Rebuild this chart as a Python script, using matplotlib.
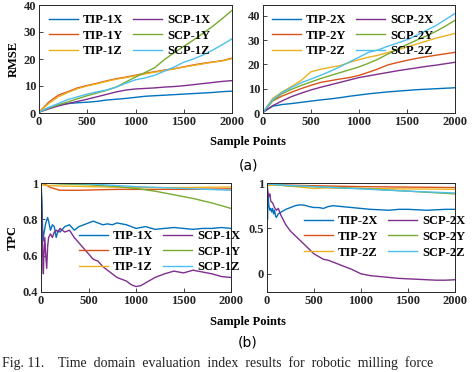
import matplotlib
matplotlib.use("Agg")
import matplotlib.pyplot as plt

plt.rcParams['font.family'] = ['Liberation Serif', 'DejaVu Serif']
plt.rcParams['font.weight'] = 'bold'

tick_size = 9
legend_size = 9
label_size = 9

# MATLAB default line colours: X, Y, Z for TIP and SCP
tip_colors = ["#0072BD", "#D95319", "#EDB120"]
scp_colors = ["#7E2F8E", "#77AC30", "#4DBEEE"]

# ---------------- RMSE data (a) ----------------
x_rmse = [0, 100, 200, 300, 400, 500, 600, 700, 800, 900, 1000,
          1100, 1200, 1300, 1400, 1500, 1600, 1700, 1800, 1900, 2000]

tip_1x = [0.3, 2.0, 3.0, 3.5, 3.8, 4.0, 4.3, 4.8, 5.1, 5.4, 5.8, 6.2, 6.4, 6.6, 6.8, 7.0, 7.2, 7.4, 7.6, 7.9, 8.1]
tip_1y = [0.3, 4.0, 6.6, 7.9, 9.3, 10.2, 11.0, 11.9, 12.7, 13.3, 14.0, 14.7, 15.3, 15.9, 16.4, 17.1, 17.8, 18.4, 18.9, 19.4, 20.3]
tip_1z = [0.3, 3.5, 6.0, 7.6, 9.0, 10.0, 10.8, 11.7, 12.5, 13.1, 13.8, 14.5, 15.1, 15.7, 16.3, 17.0, 17.6, 18.2, 18.8, 19.3, 20.1]
scp_1x = [0.3, 1.5, 2.6, 3.5, 4.3, 5.1, 6.0, 6.9, 7.8, 8.5, 8.9, 9.1, 9.3, 9.6, 9.8, 10.1, 10.5, 10.9, 11.3, 11.7, 12.0]
scp_1y = [0.3, 1.8, 3.0, 4.1, 5.3, 6.4, 7.4, 8.4, 9.6, 11.5, 13.3, 15.0, 16.8, 19.8, 22.3, 24.7, 27.0, 29.5, 32.1, 35.0, 38.0]
scp_1z = [0.3, 2.0, 3.5, 5.0, 6.0, 7.0, 7.8, 8.5, 9.6, 11.0, 12.3, 13.0, 14.0, 15.5, 17.0, 18.8, 20.0, 21.5, 23.3, 25.3, 27.5]

tip_2x = [0.3, 2.8, 3.5, 3.9, 4.4, 4.9, 5.4, 5.8, 6.3, 6.9, 7.4, 7.9, 8.3, 8.7, 9.0, 9.3, 9.6, 9.8, 10.0, 10.2, 10.4]
tip_2y = [0.3, 5.0, 7.0, 8.6, 10.1, 11.4, 12.6, 13.3, 14.0, 14.6, 15.5, 16.8, 18.2, 19.8, 20.8, 21.7, 22.5, 23.2, 23.8, 24.4, 25.0]
tip_2z = [0.3, 6.0, 8.7, 11.0, 13.5, 17.0, 18.0, 18.8, 19.5, 20.8, 22.0, 23.0, 23.8, 24.9, 26.0, 27.2, 28.4, 29.6, 30.8, 31.8, 32.8]
scp_2x = [0.3, 3.0, 5.0, 6.8, 8.2, 9.5, 10.6, 11.6, 12.6, 13.6, 14.6, 15.3, 16.0, 16.7, 17.4, 18.0, 18.6, 19.2, 19.7, 20.3, 20.9]
scp_2y = [0.3, 5.0, 8.0, 9.8, 11.4, 12.8, 14.2, 15.4, 16.6, 17.8, 19.0, 20.5, 22.2, 24.3, 26.2, 28.2, 30.0, 31.7, 33.6, 35.8, 38.2]
scp_2z = [0.3, 5.5, 8.5, 10.6, 12.5, 14.0, 15.5, 17.2, 19.0, 21.0, 23.0, 25.0, 26.0, 27.5, 28.8, 30.2, 32.0, 34.0, 36.0, 38.5, 41.0]

# ---------------- TPC data (b) ----------------
x_tpc_1x = [0, 10, 20, 30, 50, 70, 80, 100, 120, 140, 160, 180, 200, 250, 300, 350, 400, 450, 500, 550,
            600, 650, 700, 750, 800, 900, 1000, 1100, 1200, 1300, 1400, 1500, 1600, 1700, 1800, 1900, 2000]
tpc_tip_1x = [1.0, 0.9, 0.68, 0.72, 0.78, 0.81, 0.79, 0.74, 0.77, 0.76, 0.70, 0.74, 0.73, 0.76, 0.77, 0.74, 0.76,
              0.77, 0.78, 0.79, 0.78, 0.77, 0.775, 0.77, 0.78, 0.77, 0.75, 0.76, 0.745, 0.75, 0.755, 0.75, 0.745,
              0.75, 0.75, 0.755, 0.75]
x_tpc_s1x = [0, 10, 20, 25, 30, 40, 50, 60, 70, 80, 100, 120, 140, 160, 180, 200, 250, 300, 350, 400, 450, 500,
             550, 600, 650, 700, 750, 800, 850, 900, 950, 1000, 1050, 1100, 1200, 1300, 1400, 1500, 1600, 1700,
             1800, 1900, 2000]
tpc_scp_1x = [1.0, 0.8, 0.55, 0.5, 0.6, 0.7, 0.6, 0.53, 0.65, 0.7, 0.72, 0.7, 0.73, 0.74, 0.73, 0.75, 0.73, 0.74,
              0.70, 0.67, 0.64, 0.61, 0.58, 0.57, 0.54, 0.52, 0.50, 0.48, 0.47, 0.46, 0.44, 0.43, 0.435, 0.45,
              0.48, 0.50, 0.515, 0.505, 0.52, 0.51, 0.50, 0.485, 0.48]
x_tpc_1y = [0, 50, 100, 200, 400, 800, 1200, 1600, 2000]
tpc_tip_1y = [1.0, 0.99, 0.975, 0.96, 0.96, 0.965, 0.965, 0.965, 0.968]
x_tpc_1z = [0, 100, 500, 1000, 1500, 2000]
tpc_tip_1z = [0.99, 0.985, 0.98, 0.975, 0.975, 0.978]
x_tpc_s1y = [0, 200, 500, 800, 1000, 1200, 1400, 1600, 1800, 2000]
tpc_scp_1y = [1.0, 0.995, 0.99, 0.98, 0.97, 0.955, 0.935, 0.915, 0.89, 0.86]
x_tpc_s1z = [0, 500, 1000, 1500, 2000]
tpc_scp_1z = [1.0, 0.995, 0.98, 0.97, 0.96]

x_tpc_2x = [0, 5, 10, 20, 30, 40, 50, 60, 70, 80, 90, 100, 120, 150, 200, 250, 300, 350, 400, 450, 500, 550,
            600, 650, 700, 750, 800, 900, 1000, 1100, 1200, 1300, 1400, 1500, 1600, 1700, 1800, 1900, 2000]
tpc_tip_2x = [1.0, 0.6, 0.85, 0.75, 0.7, 0.72, 0.68, 0.72, 0.66, 0.7, 0.64, 0.62, 0.66, 0.68, 0.71, 0.73, 0.75,
              0.76, 0.755, 0.74, 0.73, 0.73, 0.72, 0.74, 0.75, 0.745, 0.74, 0.73, 0.72, 0.71, 0.705, 0.70, 0.71,
              0.71, 0.705, 0.70, 0.705, 0.71, 0.71]
x_tpc_s2x = [0, 10, 20, 30, 40, 60, 80, 100, 120, 150, 200, 250, 300, 350, 400, 450, 500, 550, 600, 650, 700,
             750, 800, 900, 1000, 1100, 1200, 1300, 1400, 1500, 1600, 1700, 1800, 1900, 2000]
tpc_scp_2x = [1.0, 0.9, 0.85, 0.88, 0.8, 0.78, 0.73, 0.7, 0.72, 0.64, 0.54, 0.47, 0.42, 0.37, 0.32, 0.27, 0.22,
              0.19, 0.16, 0.15, 0.13, 0.11, 0.09, 0.05, 0.0, -0.02, -0.03, -0.04, -0.05, -0.055, -0.06, -0.065,
              -0.07, -0.07, -0.065]
x_tpc_2y = [0, 100, 500, 1000, 1500, 2000]
tpc_tip_2y = [1.0, 0.98, 0.97, 0.96, 0.955, 0.95]
x_tpc_2z = [0, 100, 300, 500, 600, 1000, 1500, 2000]
tpc_tip_2z = [0.97, 0.98, 0.96, 0.94, 0.945, 0.94, 0.935, 0.93]
x_tpc_s2y = [0, 200, 500, 1000, 1500, 2000]
tpc_scp_2y = [0.99, 0.97, 0.96, 0.94, 0.91, 0.88]
x_tpc_s2z = [0, 200, 500, 1000, 1500, 2000]
tpc_scp_2z = [0.99, 0.975, 0.96, 0.935, 0.91, 0.89]


def style_axes(ax, ylim, yticks, yticklabels):
    ax.set_xlim(0, 2000)
    ax.set_ylim(*ylim)
    ax.set_xticks([0, 500, 1000, 1500, 2000])
    ax.set_yticks(yticks)
    ax.set_yticklabels(yticklabels)
    ax.tick_params(direction='in', length=3, width=0.6, labelsize=tick_size, pad=2, colors='#262626')
    for spine in ax.spines.values():
        spine.set_linewidth(0.7)
        spine.set_color('#262626')


def add_lines(ax, series, labels, legend_anchor):
    handles = []
    for (xs, ys, color), label in zip(series, labels):
        line, = ax.plot(xs, ys, color=color, linewidth=1.0, label=label)
        handles.append(line)
    fig.legend(handles=handles, loc='upper left', bbox_to_anchor=legend_anchor, ncol=2, frameon=False,
               prop={'size': legend_size, 'weight': 'bold'}, handlelength=2.3, handletextpad=0.4,
               columnspacing=0.8, labelspacing=0.3, borderpad=0, borderaxespad=0)


fig = plt.figure(figsize=(4.74, 3.72), dpi=100)

ax_a1 = fig.add_axes([39 / 474, 1 - 113 / 372, 193 / 474, 108 / 372])
ax_a2 = fig.add_axes([263 / 474, 1 - 113 / 372, 192 / 474, 108 / 372])
ax_b1 = fig.add_axes([41 / 474, 1 - 292 / 372, 190 / 474, 109 / 372])
ax_b2 = fig.add_axes([267 / 474, 1 - 292 / 372, 188 / 474, 109 / 372])

add_lines(ax_a1,
          [(x_rmse, tip_1x, tip_colors[0]), (x_rmse, tip_1y, tip_colors[1]), (x_rmse, tip_1z, tip_colors[2]),
           (x_rmse, scp_1x, scp_colors[0]), (x_rmse, scp_1y, scp_colors[1]), (x_rmse, scp_1z, scp_colors[2])],
          ["TIP-1X", "TIP-1Y", "TIP-1Z", "SCP-1X", "SCP-1Y", "SCP-1Z"], (49 / 474, 1 - 14 / 372))
add_lines(ax_a2,
          [(x_rmse, tip_2x, tip_colors[0]), (x_rmse, tip_2y, tip_colors[1]), (x_rmse, tip_2z, tip_colors[2]),
           (x_rmse, scp_2x, scp_colors[0]), (x_rmse, scp_2y, scp_colors[1]), (x_rmse, scp_2z, scp_colors[2])],
          ["TIP-2X", "TIP-2Y", "TIP-2Z", "SCP-2X", "SCP-2Y", "SCP-2Z"], (272 / 474, 1 - 14 / 372))
add_lines(ax_b1,
          [(x_tpc_1x, tpc_tip_1x, tip_colors[0]), (x_tpc_1y, tpc_tip_1y, tip_colors[1]),
           (x_tpc_1z, tpc_tip_1z, tip_colors[2]), (x_tpc_s1x, tpc_scp_1x, scp_colors[0]),
           (x_tpc_s1y, tpc_scp_1y, scp_colors[1]), (x_tpc_s1z, tpc_scp_1z, scp_colors[2])],
          ["TIP-1X", "TIP-1Y", "TIP-1Z", "SCP-1X", "SCP-1Y", "SCP-1Z"], (79 / 474, 1 - 230 / 372))
add_lines(ax_b2,
          [(x_tpc_2x, tpc_tip_2x, tip_colors[0]), (x_tpc_2y, tpc_tip_2y, tip_colors[1]),
           (x_tpc_2z, tpc_tip_2z, tip_colors[2]), (x_tpc_s2x, tpc_scp_2x, scp_colors[0]),
           (x_tpc_s2y, tpc_scp_2y, scp_colors[1]), (x_tpc_s2z, tpc_scp_2z, scp_colors[2])],
          ["TIP-2X", "TIP-2Y", "TIP-2Z", "SCP-2X", "SCP-2Y", "SCP-2Z"], (304 / 474, 1 - 215 / 372))

style_axes(ax_a1, (0, 40), [0, 10, 20, 30, 40], ["0", "10", "20", "30", "40"])
style_axes(ax_a2, (0, 44.5), [0, 10, 20, 30, 40], ["0", "10", "20", "30", "40"])
style_axes(ax_b1, (0.4, 1.0), [0.4, 0.6, 0.8, 1.0], ["0.4", "0.6", "0.8", "1"])
style_axes(ax_b2, (-0.2, 1.0), [0, 0.5, 1.0], ["0", "0.5", "1"])

ax_a1.set_ylabel("RMSE", fontsize=label_size, fontweight='bold', labelpad=3)
ax_b1.set_ylabel("TPC", fontsize=label_size, fontweight='bold', labelpad=3)

fig.text(248 / 474, 1 - 142 / 372, "Sample Points", ha='center', va='center', fontsize=label_size,
         fontweight='bold')
fig.text(248 / 474, 1 - 322 / 372, "Sample Points", ha='center', va='center', fontsize=label_size,
         fontweight='bold')
fig.text(248 / 474, 1 - 165 / 372, "(a)", ha='center', va='center', fontsize=10, fontweight='normal',
         family='DejaVu Sans')
fig.text(248 / 474, 1 - 342 / 372, "(b)", ha='center', va='center', fontsize=10, fontweight='normal',
         family='DejaVu Sans')
fig.text(0.004, 2 / 372, "Fig. 11.    Time  domain  evaluation  index  results  for  robotic  milling  force",
         ha='left', va='bottom', fontsize=10, fontweight='normal', color='#222222')

fig.savefig("out.png", dpi=100)
